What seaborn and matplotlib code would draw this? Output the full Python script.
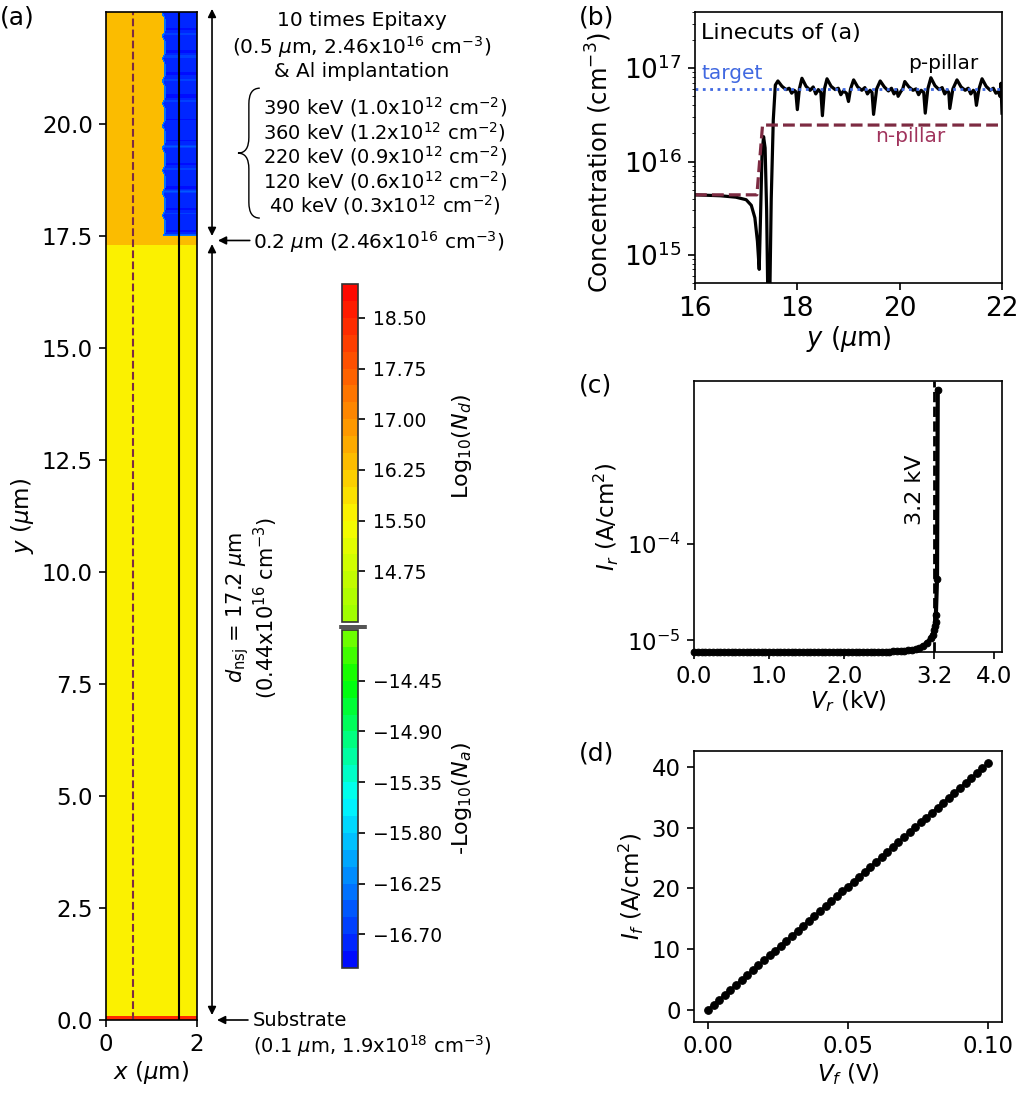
import numpy as np
import matplotlib
matplotlib.use("Agg")
import matplotlib.pyplot as plt
import seaborn as sns
from matplotlib.colors import LinearSegmentedColormap, ListedColormap, Normalize
from matplotlib.path import Path
from matplotlib.patches import PathPatch
from matplotlib.ticker import FuncFormatter, NullLocator
import matplotlib.cm as cm

# ---------------- (a) device structure ----------------
width_um = 2.0
substrate_top = 0.1
drift_top = 17.3
buffer_top = 17.5
epi_top = 22.5
epi_layer_um = 0.5
substrate_conc = 1.9e18
drift_conc = 4.4e15
npillar_conc = 2.46e16
pillar_edge_um = 1.28
ncut_x = 0.6
pcut_x = 1.6

nd_ticks = [14.75, 15.50, 16.25, 17.00, 17.75, 18.50]
na_ticks = [-14.45, -14.90, -15.35, -15.80, -16.25, -16.70]
nd_range = (14.0, 19.0)
na_range = (-17.0, -14.0)

implant_energy = ["390", "360", "220", "120", "40"]
implant_dose = ["1.0", "1.2", "0.9", "0.6", "0.3"]

# ---------------- (b) linecuts ----------------
cut_y = [16.00, 16.50, 16.80, 17.00, 17.10, 17.17, 17.22, 17.255, 17.28, 17.31,
         17.34, 17.37, 17.40, 17.425, 17.46, 17.49, 17.53, 17.57,
         17.62, 17.70, 17.78, 17.84, 17.89, 17.94, 17.97, 18.00, 18.04,
         18.09, 18.17, 18.25, 18.31, 18.36, 18.41, 18.46, 18.49, 18.53,
         18.58, 18.66, 18.74, 18.80, 18.85, 18.90, 18.96, 19.00, 19.04,
         19.10, 19.18, 19.26, 19.32, 19.37, 19.42, 19.46, 19.49, 19.55,
         19.62, 19.70, 19.78, 19.84, 19.89, 19.94, 19.97, 20.02, 20.06,
         20.10, 20.18, 20.26, 20.32, 20.37, 20.42, 20.47, 20.50, 20.55,
         20.61, 20.69, 20.77, 20.83, 20.88, 20.93, 20.96, 20.98, 21.04,
         21.12, 21.20, 21.28, 21.34, 21.39, 21.44, 21.47, 21.50, 21.55,
         21.61, 21.69, 21.77, 21.83, 21.88, 21.93, 21.96, 21.98, 22.00]
p_conc = [4.40e15, 4.30e15, 4.15e15, 3.90e15, 3.40e15, 2.50e15, 1.40e15, 7.0e14, 2.5e15, 1.2e16,
          1.85e16, 1.40e16, 3.0e15, 3.0e14, 3.0e14, 4.0e15, 2.8e16, 6.6e16,
          7.3e16, 6.4e16, 5.9e16, 6.1e16, 5.4e16, 5.8e16, 5.6e16, 3.6e16, 6.0e16,
          7.8e16, 6.4e16, 5.8e16, 6.3e16, 5.3e16, 5.9e16, 5.5e16, 3.1e16, 6.0e16,
          7.7e16, 6.4e16, 5.9e16, 6.1e16, 5.2e16, 5.7e16, 5.4e16, 4.4e16, 6.0e16,
          7.5e16, 6.3e16, 5.8e16, 6.2e16, 5.3e16, 5.8e16, 5.5e16, 3.2e16, 6.0e16,
          7.3e16, 6.3e16, 5.7e16, 6.1e16, 5.3e16, 5.9e16, 5.0e16, 5.6e16, 6.0e16,
          7.2e16, 6.3e16, 5.8e16, 6.0e16, 5.2e16, 5.8e16, 5.5e16, 3.3e16, 6.0e16,
          7.9e16, 6.5e16, 5.9e16, 6.2e16, 5.3e16, 5.8e16, 5.5e16, 3.7e16, 6.0e16,
          7.5e16, 6.3e16, 5.8e16, 6.1e16, 5.3e16, 5.8e16, 5.5e16, 4.0e16, 6.0e16,
          7.7e16, 6.4e16, 5.8e16, 6.1e16, 5.4e16, 5.6e16, 5.0e16, 6.9e16, 3.3e16]
n_cut_y = [16.00, 17.21, 17.32, 22.00]
n_conc = [4.4e15, 4.4e15, 2.46e16, 2.46e16]
target_conc = 6.0e16

# ---------------- (c) reverse IV ----------------
vr_kv = [0.00, 0.05, 0.10, 0.15, 0.20, 0.25, 0.30, 0.35, 0.40, 0.45,
         0.50, 0.55, 0.60, 0.65, 0.70, 0.75, 0.80, 0.85, 0.90, 0.95,
         1.00, 1.05, 1.10, 1.15, 1.20, 1.25, 1.30, 1.35, 1.40, 1.45,
         1.50, 1.55, 1.60, 1.65, 1.70, 1.75, 1.80, 1.85, 1.90, 1.95,
         2.00, 2.05, 2.10, 2.15, 2.20, 2.25, 2.30, 2.35, 2.40, 2.45,
         2.50, 2.55, 2.60, 2.65, 2.70, 2.75, 2.80, 2.85, 2.90, 2.95,
         3.00, 3.05, 3.10, 3.15, 3.18, 3.20, 3.21, 3.215, 3.22, 3.235, 3.245]
ir = [7.60e-6, 7.60e-6, 7.60e-6, 7.60e-6, 7.60e-6, 7.60e-6, 7.60e-6, 7.60e-6, 7.60e-6, 7.60e-6,
      7.60e-6, 7.60e-6, 7.60e-6, 7.60e-6, 7.60e-6, 7.60e-6, 7.60e-6, 7.60e-6, 7.60e-6, 7.60e-6,
      7.60e-6, 7.61e-6, 7.61e-6, 7.61e-6, 7.61e-6, 7.61e-6, 7.61e-6, 7.61e-6, 7.61e-6, 7.61e-6,
      7.61e-6, 7.61e-6, 7.61e-6, 7.61e-6, 7.61e-6, 7.61e-6, 7.62e-6, 7.62e-6, 7.62e-6, 7.62e-6,
      7.62e-6, 7.63e-6, 7.63e-6, 7.63e-6, 7.63e-6, 7.63e-6, 7.64e-6, 7.64e-6, 7.64e-6, 7.64e-6,
      7.65e-6, 7.65e-6, 7.67e-6, 7.70e-6, 7.73e-6, 7.77e-6, 7.82e-6, 7.90e-6, 8.00e-6, 8.15e-6,
      8.40e-6, 8.80e-6, 9.50e-6, 1.05e-5, 1.15e-5, 1.28e-5, 1.40e-5, 1.55e-5, 1.85e-5, 4.3e-5, 3.9e-3]
vbr_kv = 3.2

# ---------------- (d) forward IV ----------------
vf = [0.000, 0.002, 0.004, 0.006, 0.008, 0.010, 0.012, 0.014, 0.016, 0.018,
      0.020, 0.022, 0.024, 0.026, 0.028, 0.030, 0.032, 0.034, 0.036, 0.038,
      0.040, 0.042, 0.044, 0.046, 0.048, 0.050, 0.052, 0.054, 0.056, 0.058,
      0.060, 0.062, 0.064, 0.066, 0.068, 0.070, 0.072, 0.074, 0.076, 0.078,
      0.080, 0.082, 0.084, 0.086, 0.088, 0.090, 0.092, 0.094, 0.096, 0.098, 0.100]
i_f = [0.00, 0.81, 1.62, 2.44, 3.25, 4.06, 4.87, 5.68, 6.50, 7.31,
       8.12, 8.93, 9.74, 10.56, 11.37, 12.18, 12.99, 13.80, 14.62, 15.43,
       16.24, 17.05, 17.86, 18.68, 19.49, 20.30, 21.11, 21.92, 22.74, 23.55,
       24.36, 25.17, 25.98, 26.80, 27.61, 28.42, 29.23, 30.04, 30.86, 31.67,
       32.48, 33.29, 34.10, 34.92, 35.73, 36.54, 37.35, 38.16, 38.98, 39.79, 40.60]

n_color = "#7d2b42"
n_text_color = "#a0335c"
target_color = "royalblue"

# ---------------- colours ----------------
nd_base = LinearSegmentedColormap.from_list("nd", [(0, "#99ff00"), (0.3, "#fbfb00"), (1, "#ff0000")])
na_base = LinearSegmentedColormap.from_list("na", [(0, "#0000ff"), (0.5, "#00ffff"),
                                                    (0.85, "#00ff00"), (1, "#80ff00")])
nd_colors = nd_base((np.arange(20) + 0.5) / 20)
na_colors = na_base((np.arange(20) + 0.5) / 20)


def to_rgb_field(v):
    i_top = np.clip(np.floor((v - nd_range[0]) / 0.25).astype(int), 0, 19)
    i_bot = np.clip(np.floor((v - na_range[0]) / 0.15).astype(int), 0, 19)
    return np.where(v[..., None] >= 0, nd_colors[i_top, :3], na_colors[i_bot, :3])


xs = np.arange(0.005, width_um, 0.01)
ys = np.arange(0.005, epi_top, 0.01)
X, Y = np.meshgrid(xs, ys)
field = np.full(X.shape, np.log10(drift_conc))
field[Y < substrate_top] = np.log10(substrate_conc)
field[Y >= drift_top] = np.log10(npillar_conc)
# scalloped pillar edge: small bulge at every epitaxy interface
layer_pos = (Y - buffer_top) % epi_layer_um
dist = np.minimum(np.abs(layer_pos - 0.46), np.abs(layer_pos + 0.04))
edge = pillar_edge_um - 0.05 * np.clip(1 - dist / 0.12, 0, 1)
p_mask = (Y >= buffer_top) & (X >= edge)
y_lookup = np.where(Y > cut_y[-1], Y - epi_layer_um, Y)
p_field = -np.log10(np.interp(y_lookup, cut_y, p_conc))
field[p_mask] = p_field[p_mask]
rim = p_mask & (X < edge + 0.03)
field[rim] = -16.3
rgb = to_rgb_field(field)

# ---------------- figure ----------------
W, H = 1025, 1097
fig = plt.figure(figsize=(W / 100, H / 100), dpi=100)


def box(l, t, r, b):
    return [l / W, 1 - b / H, (r - l) / W, (b - t) / H]


ax_a = fig.add_axes(box(106, 12, 197, 1020))
ax_b = fig.add_axes(box(695, 12, 1002, 283))
ax_c = fig.add_axes(box(694, 381, 1002, 652))
ax_d = fig.add_axes(box(694, 751, 1002, 1022))
cax1 = fig.add_axes(box(342, 284, 358, 622))
cax2 = fig.add_axes(box(342, 630, 358, 968))

# (a)
ax_a.imshow(rgb, extent=[0, width_um, 0, epi_top], origin="lower", aspect="auto",
            interpolation="nearest")
ax_a.axvline(ncut_x, color=n_color, ls="--", lw=1.5)
ax_a.axvline(pcut_x, color="k", lw=1.5)
ax_a.set_xlim(0, width_um)
ax_a.set_ylim(0, epi_top)
ax_a.set_xticks([0, 2])
ax_a.set_yticks([0, 2.5, 5, 7.5, 10, 12.5, 15, 17.5, 20])
ax_a.yaxis.set_major_formatter(FuncFormatter(lambda v, p: f"{v:.1f}"))
ax_a.tick_params(labelsize=16.5)
ax_a.set_xlabel(r"$x$ ($\mu$m)", fontsize=16.5, labelpad=2)
ax_a.set_ylabel(r"$y$ ($\mu$m)", fontsize=16.5)

akw = dict(arrowstyle="<|-|>", color="k", lw=1.2, shrinkA=0, shrinkB=0, mutation_scale=12)
ax_a.annotate("", xy=(2.33, 22.57), xytext=(2.33, 17.5), arrowprops=akw, annotation_clip=False)
ax_a.annotate("", xy=(2.33, 17.32), xytext=(2.33, 0.11), arrowprops=akw, annotation_clip=False)
hkw = dict(arrowstyle="-|>", color="k", lw=1.2, shrinkA=0, shrinkB=0, mutation_scale=12)
ax_a.annotate("", xy=(2.46, 17.4), xytext=(3.16, 17.4), arrowprops=hkw, annotation_clip=False)
ax_a.annotate("", xy=(2.44, 0.0), xytext=(3.12, 0.0), arrowprops=hkw, annotation_clip=False)

fs_ann = 14.5
ax_a.text(5.62, 22.32, "10 times Epitaxy", ha="center", va="center", fontsize=fs_ann, clip_on=False)
ax_a.text(5.62, 21.72, r"(0.5 $\mu$m, 2.46x10$^{16}$ cm$^{-3}$)", ha="center", va="center",
          fontsize=fs_ann, clip_on=False)
ax_a.text(5.62, 21.17, "& Al implantation", ha="center", va="center", fontsize=fs_ann, clip_on=False)
for k, (e, d) in enumerate(zip(implant_energy, implant_dose)):
    ax_a.text(6.13, 20.38 - 0.55 * k, f"{e} keV ({d}x10$^{{12}}$ cm$^{{-2}}$)", ha="center",
              va="center", fontsize=14, clip_on=False)
ax_a.text(3.23, 17.37, r"0.2 $\mu$m (2.46x10$^{16}$ cm$^{-3}$)", ha="left", va="center",
          fontsize=fs_ann, clip_on=False)
ax_a.text(3.23, 0.0, "Substrate", ha="left", va="center", fontsize=14, clip_on=False)
ax_a.text(3.23, -0.58, r"(0.1 $\mu$m, 1.9x10$^{18}$ cm$^{-3}$)", ha="left", va="center",
          fontsize=14, clip_on=False)
ax_a.text(3.21, 9.2, "$d_{\\rm nsj}$ = 17.2 $\\mu$m\n(0.44x10$^{16}$ cm$^{-3}$)", rotation=90,
          ha="center", va="center", multialignment="center", fontsize=15, clip_on=False,
          linespacing=1.0)

# curly brace
xr, xl, yt, yb = 3.38, 2.90, 20.80, 17.90
xm, ym, c = (xl + xr) / 2, (yt + yb) / 2, 0.35
verts = [(xr, yt), (xm, yt), (xm, yt - c), (xm, ym + c), (xm, ym), (xl, ym),
         (xm, ym), (xm, ym - c), (xm, yb + c), (xm, yb), (xr, yb)]
codes = [Path.MOVETO, Path.CURVE3, Path.CURVE3, Path.LINETO, Path.CURVE3, Path.CURVE3,
         Path.CURVE3, Path.CURVE3, Path.LINETO, Path.CURVE3, Path.CURVE3]
ax_a.add_patch(PathPatch(Path(verts, codes), fill=False, lw=1.0, color="k", clip_on=False))

# colorbars
minus_fmt = FuncFormatter(lambda v, p: f"{v:.2f}".replace("-", "\u2212"))
sm1 = cm.ScalarMappable(norm=Normalize(*nd_range), cmap=ListedColormap(nd_colors))
cb1 = fig.colorbar(sm1, cax=cax1, ticks=nd_ticks)
sm2 = cm.ScalarMappable(norm=Normalize(*na_range), cmap=ListedColormap(na_colors))
cb2 = fig.colorbar(sm2, cax=cax2, ticks=na_ticks)
for cb in (cb1, cb2):
    cb.ax.yaxis.set_major_formatter(minus_fmt)
    cb.ax.tick_params(labelsize=13.5, length=5, width=1.2, pad=6)
    cb.ax.minorticks_off()
    cb.outline.set_edgecolor("#333333")
    cb.outline.set_linewidth(1.2)
cax1.text(7.5, 0.52, r"Log$_{10}$($N_d$)", rotation=90, ha="center", va="center",
          transform=cax1.transAxes, fontsize=16)
cax2.text(7.5, 0.5, r"-Log$_{10}$($N_a$)", rotation=90, ha="center", va="center",
          transform=cax2.transAxes, fontsize=16)
cax1.plot([-0.1, 1.5], [-0.012, -0.012], color="#333333", lw=1.2, transform=cax1.transAxes,
          clip_on=False)
cax2.plot([-0.1, 1.5], [1.006, 1.006], color="#333333", lw=1.2, transform=cax2.transAxes,
          clip_on=False)

# (b)
sns.lineplot(x=cut_y, y=p_conc, ax=ax_b, color="k", lw=2.3, estimator=None, sort=False)
sns.lineplot(x=n_cut_y, y=n_conc, ax=ax_b, color=n_color, lw=2.3, linestyle="--",
             estimator=None, sort=False)
ax_b.axhline(target_conc, color=target_color, ls=":", lw=2)
ax_b.set_yscale("log")
ax_b.set_xlim(16, 22)
ax_b.set_ylim(5e14, 4e17)
ax_b.set_xticks([16, 18, 20, 22])
ax_b.tick_params(labelsize=19)
ax_b.set_xlabel(r"$y$ ($\mu$m)", fontsize=18.5, labelpad=1)
ax_b.set_ylabel(r"Concentration (cm$^{-3}$)", fontsize=17.5)
ax_b.yaxis.set_label_coords(-0.265, 0.443)
ax_b.text(16.12, 2.38e17, "Linecuts of (a)", fontsize=16, va="center")
ax_b.text(16.12, 8.8e16, "target", fontsize=14.5, va="center", color=target_color)
ax_b.text(20.16, 1.13e17, "p-pillar", fontsize=14.5, va="center", color="k")
ax_b.text(19.53, 1.84e16, "n-pillar", fontsize=14.5, va="center", color=n_text_color)

# (c)
ax_c.axvline(vbr_kv, color="k", ls="--", lw=2, zorder=1)
sns.lineplot(x=vr_kv, y=ir, ax=ax_c, color="k", lw=3, marker="o", markersize=4.8,
             markeredgecolor="k", estimator=None, sort=False, clip_on=False, zorder=3)
ax_c.set_yscale("log")
ax_c.set_xlim(0, 4.1)
ax_c.set_ylim(7.6e-6, 4.8e-3)
ax_c.set_yticks([1e-5, 1e-4])
ax_c.yaxis.set_minor_locator(NullLocator())
ax_c.set_xticks([0, 1, 2, 3.2, 4])
ax_c.set_xticklabels(["0.0", "1.0", "2.0", "3.2", "4.0"])
ax_c.tick_params(labelsize=16.5)
ax_c.set_xlabel(r"$V_r$ (kV)", fontsize=16.5, labelpad=0)
ax_c.set_ylabel(r"$I_r$ (A/cm$^2$)", fontsize=16.5)
ax_c.text(3.07, 3.6e-4, "3.2 kV", rotation=90, ha="right", va="center", fontsize=16)

# (d)
sns.lineplot(x=vf, y=i_f, ax=ax_d, color="k", lw=2, marker="o", markersize=5.5,
             markeredgecolor="k", estimator=None, sort=False)
ax_d.set_xticks([0, 0.05, 0.10])
ax_d.set_xticklabels(["0.00", "0.05", "0.10"])
ax_d.set_yticks([0, 10, 20, 30, 40])
ax_d.tick_params(labelsize=16.5)
ax_d.set_xlabel(r"$V_f$ (V)", fontsize=16.5, labelpad=2)
ax_d.set_ylabel(r"$I_f$ (A/cm$^2$)", fontsize=16.5)

for ax in (ax_a, ax_b, ax_c, ax_d):
    ax.tick_params(length=5, width=1.2, pad=4.5)
    for s in ax.spines.values():
        s.set_linewidth(1.2)

fig.text(0 / W, 1 - 18 / H, "(a)", fontsize=18, va="center", ha="left")
fig.text(579 / W, 1 - 17 / H, "(b)", fontsize=18, va="center", ha="left")
fig.text(579 / W, 1 - 386 / H, "(c)", fontsize=18, va="center", ha="left")
fig.text(579 / W, 1 - 753 / H, "(d)", fontsize=18, va="center", ha="left")

fig.savefig("out.png", dpi=100)
